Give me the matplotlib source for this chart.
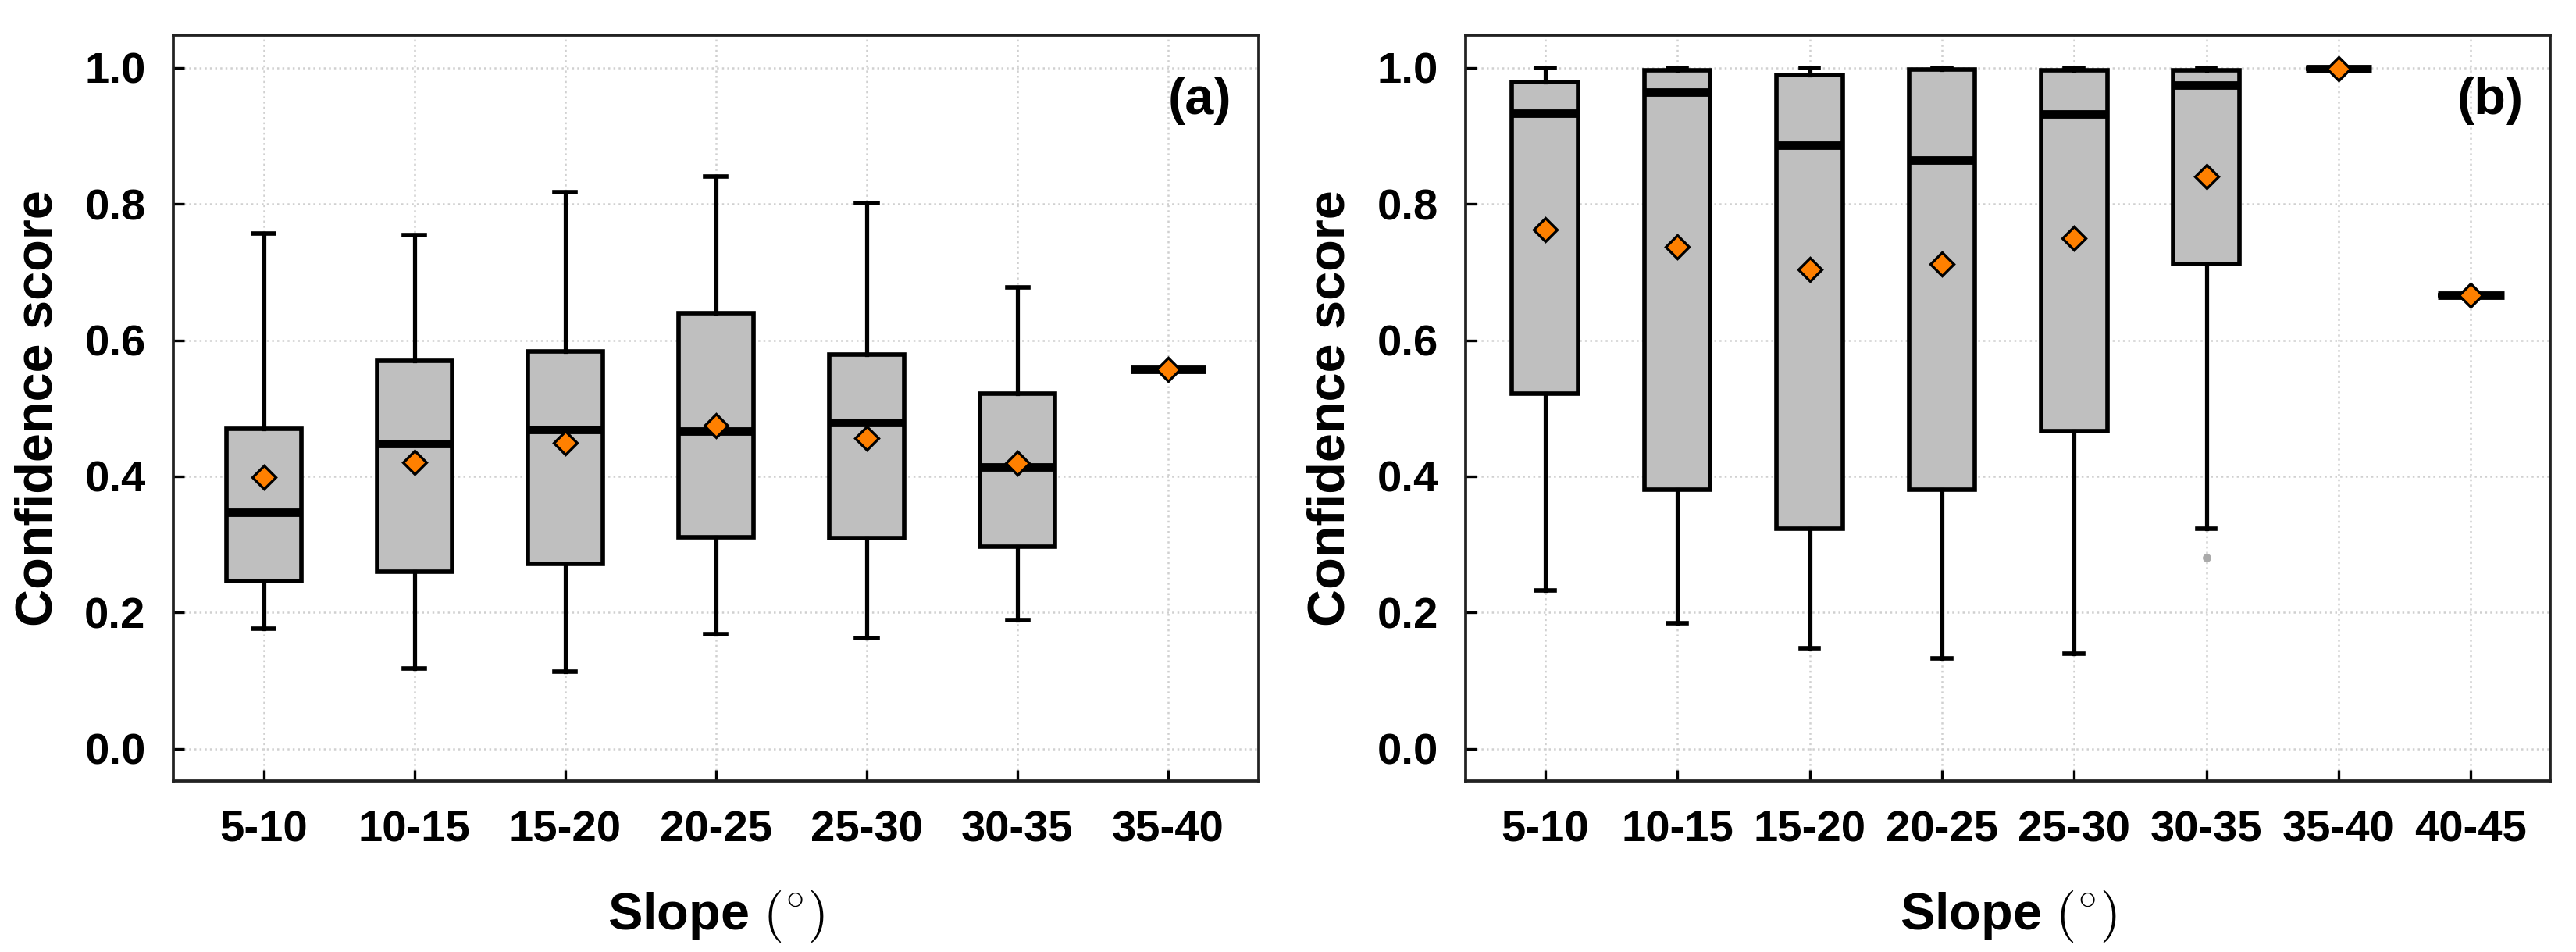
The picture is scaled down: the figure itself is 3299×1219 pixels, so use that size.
import numpy as np
import matplotlib
matplotlib.use("Agg")
import matplotlib.pyplot as plt

plt.rcParams['font.family'] = ['Liberation Sans', 'DejaVu Sans']
plt.rcParams['font.weight'] = 'bold'
plt.rcParams['mathtext.fontset'] = 'cm'

# panel (a)
labels_a = ["5-10", "10-15", "15-20", "20-25", "25-30", "30-35", "35-40"]
whislo_a = [0.176, 0.118, 0.113, 0.168, 0.163, 0.189, 0.557]
q1_a     = [0.246, 0.260, 0.272, 0.311, 0.309, 0.297, 0.557]
med_a    = [0.347, 0.448, 0.469, 0.467, 0.479, 0.414, 0.557]
q3_a     = [0.470, 0.570, 0.583, 0.640, 0.579, 0.521, 0.557]
whishi_a = [0.757, 0.754, 0.818, 0.840, 0.801, 0.678, 0.557]
mean_a   = [0.399, 0.421, 0.449, 0.475, 0.456, 0.419, 0.557]
fliers_a = [[], [], [], [], [], [], []]

# panel (b)
labels_b = ["5-10", "10-15", "15-20", "20-25", "25-30", "30-35", "35-40", "40-45"]
whislo_b = [0.232, 0.184, 0.147, 0.133, 0.139, 0.323, 0.999, 0.666]
q1_b     = [0.522, 0.381, 0.323, 0.380, 0.466, 0.712, 0.999, 0.666]
med_b    = [0.933, 0.964, 0.886, 0.865, 0.932, 0.975, 0.999, 0.666]
q3_b     = [0.979, 0.997, 0.990, 0.998, 0.996, 0.996, 0.999, 0.666]
whishi_b = [1.000, 1.000, 1.000, 1.000, 1.000, 1.000, 0.999, 0.666]
mean_b   = [0.762, 0.737, 0.704, 0.712, 0.750, 0.841, 0.999, 0.666]
fliers_b = [[], [], [], [], [], [0.281], [], []]


def make_stats(labels, lo, q1, med, q3, hi, mean, fl):
    out = []
    for i in range(len(labels)):
        out.append(dict(label=labels[i], whislo=lo[i], q1=q1[i], med=med[i],
                        q3=q3[i], whishi=hi[i], mean=mean[i], fliers=fl[i]))
    return out


def draw_panel(ax, stats, tag):
    n = len(stats)
    ax.bxp(stats, positions=np.arange(1, n + 1), widths=0.5, patch_artist=True,
           showmeans=True, showfliers=True, capwidths=0.14,
           boxprops=dict(facecolor='#bfbfbf', edgecolor='k', linewidth=1.35),
           whiskerprops=dict(color='k', linewidth=1.25),
           capprops=dict(color='k', linewidth=1.35),
           medianprops=dict(color='k', linewidth=2.6, solid_capstyle='butt'),
           meanprops=dict(marker='D', markerfacecolor='#ff8000', markeredgecolor='k',
                          markersize=5.2, markeredgewidth=0.8),
           flierprops=dict(marker='o', markerfacecolor='#aaaaaa', markeredgecolor='none',
                           markersize=2.6))
    ax.set_xlim(0.4, n + 0.6)
    ax.set_ylim(-0.047, 1.048)
    ax.set_yticks([0.0, 0.2, 0.4, 0.6, 0.8, 1.0])
    ax.set_yticklabels(["0.0", "0.2", "0.4", "0.6", "0.8", "1.0"])
    ax.set_axisbelow(True)
    ax.grid(True, linestyle=':', color='#d0d0d0', linewidth=0.6)
    ax.tick_params(axis='both', direction='in', length=3.4, width=0.8, labelsize=13.5)
    ax.tick_params(axis='y', pad=8.5)
    ax.tick_params(axis='x', pad=9)
    for t in ax.get_xticklabels() + ax.get_yticklabels():
        t.set_fontweight('bold')
    for s in ax.spines.values():
        s.set_linewidth(0.9)
        s.set_color('#222222')
    ax.set_ylabel("Confidence score", fontsize=16, fontweight='bold', va='center')
    ax.yaxis.set_label_coords(-0.124, 0.5)
    ax.set_xlabel(r"Slope $(^{\circ})$", fontsize=16, fontweight='bold')
    ax.xaxis.set_label_coords(0.5, -0.145)
    ax.text(0.975, 0.912, tag, transform=ax.transAxes, ha='right', va='center',
            fontsize=16, fontweight='bold')


fig = plt.figure(figsize=(3299 / 300, 1219 / 300), dpi=300)
ax1 = fig.add_axes([0.0673, 0.180, 0.4213, 0.783])
ax2 = fig.add_axes([0.569, 0.180, 0.421, 0.783])

draw_panel(ax1, make_stats(labels_a, whislo_a, q1_a, med_a, q3_a, whishi_a, mean_a, fliers_a), "(a)")
draw_panel(ax2, make_stats(labels_b, whislo_b, q1_b, med_b, q3_b, whishi_b, mean_b, fliers_b), "(b)")

fig.savefig("out.png", dpi=300)
